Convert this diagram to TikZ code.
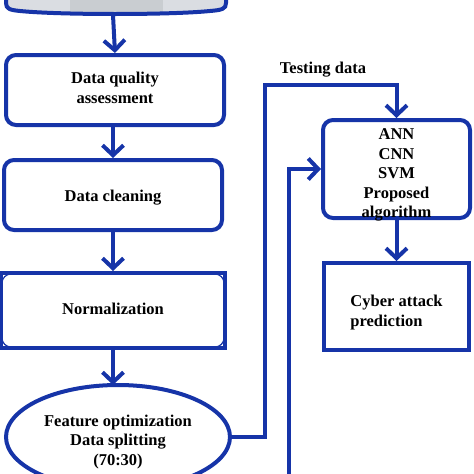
\documentclass[tikz,border=0pt]{standalone}
\usepackage{fontspec}
\setmainfont{Liberation Serif}
\usetikzlibrary{arrows.meta,shapes.geometric}
\definecolor{fblue}{RGB}{22,52,168}
\definecolor{sgrey}{RGB}{218,221,226}
\definecolor{sgreyd}{RGB}{201,205,209}
\tikzset{
  txt/.style={font=\fontsize{16.5}{19.5}\selectfont\bfseries, align=center, inner sep=0pt},
  box/.style={draw=fblue, line width=4pt, rounded corners=10pt, fill=white, txt},
  sqbox/.style={box, rounded corners=0pt},
  oval/.style={draw=fblue, line width=4pt, ellipse, fill=white, txt},
  arr/.style={draw=fblue, line width=4pt, -{Straight Barb[length=10pt,width=21pt]}},
}
\begin{document}
\begin{tikzpicture}[x=1pt,y=-1pt]
\useasboundingbox (0,0) rectangle (474,474);
\begin{scope}
\clip (0,0) rectangle (474,474);
% top (cut-off) source shape
\begin{scope}
\clip (6,-10) -- (6,3) .. controls (6,9) and (10,10) .. (20,11)
  .. controls (60,15) and (170,15) .. (210,11) .. controls (222,10) and (226,9) .. (226,3) -- (226,-10) -- cycle;
\fill[sgrey] (0,-10) rectangle (240,20);
\fill[sgreyd] (70,-10) rectangle (163,20);
\end{scope}
\draw[fblue, line width=4pt] (6,-10) -- (6,3) .. controls (6,9) and (10,10) .. (20,11)
  .. controls (60,15) and (170,15) .. (210,11) .. controls (222,10) and (226,9) .. (226,3) -- (226,-10);
\coordinate (src) at (113,15);

\node[box, minimum width=218pt, minimum height=70pt] (dqa) at (115,90) {};
\node[txt] (dqat) at ([yshift=2pt]dqa.center) {Data quality\\assessment};
\node[box, minimum width=218pt, minimum height=70pt] (clean) at (113,195) {};
\node[txt] (cleant) at ([yshift=-3pt]clean.center) {Data cleaning};
\node[sqbox, minimum width=224pt, minimum height=75pt] (norm) at (113,310.5) {};
\draw[fblue, line width=1.2pt, rounded corners=9pt] ([shift={(3,3)}]norm.north west) rectangle ([shift={(-3,-3)}]norm.south east);
\node[txt] (normt) at ([yshift=2pt]norm.center) {Normalization};
\node[oval, minimum width=224pt, minimum height=104pt] (fe) at (118,437) {};
\node[txt] (fet) at ([yshift=-5pt]fe.center) {Feature optimization\\Data splitting\\(70:30)};

\node[box, minimum width=147pt, minimum height=98pt] (models) at (396.5,169) {};
\node[txt] (modelst) at ([yshift=-6pt]models.center) {ANN\\CNN\\SVM\\Proposed\\algorithm};
\node[sqbox, minimum width=145pt, minimum height=87pt] (cyber) at (396.5,306.5) {};
\node[txt, align=left] (cybert) at ([yshift=-6pt]cyber.center) {Cyber attack\\prediction};
\node[txt] (testing) at (323,70) {Testing data};

\coordinate (t1) at (265,85);
\coordinate (tr) at (289,480);

\draw[arr] (src) -- (dqa.north);
\draw[arr] (113,125) -- (clean.north);
\draw[arr] (clean.south) -- (norm.north);
\draw[arr] (norm.south) -- (113,385);
\draw[arr] (fe.east) -| (t1) -| (models.north);
\draw[arr] (tr) |- (models.west);
\draw[arr] (models.south) -- (cyber.north);
\end{scope}
\end{tikzpicture}
\end{document}
